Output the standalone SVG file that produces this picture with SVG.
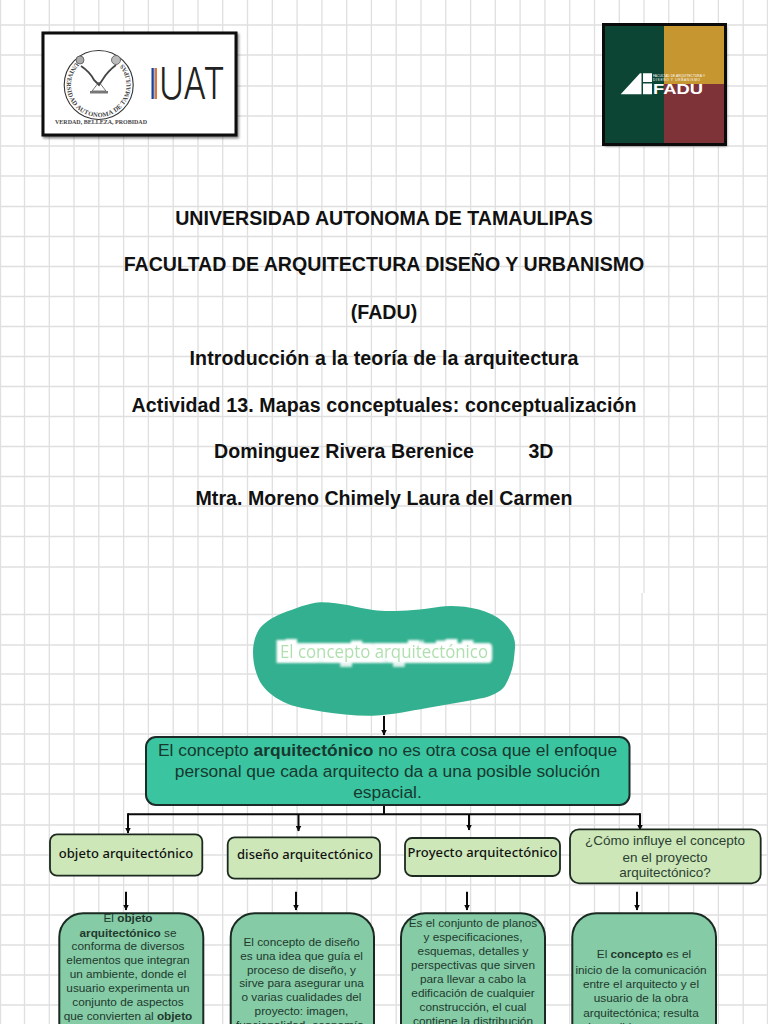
<svg xmlns="http://www.w3.org/2000/svg" xmlns:xlink="http://www.w3.org/1999/xlink" width="768" height="1024" viewBox="0 0 768 1024">
<style>
.g{stroke:#dfdfdf;stroke-width:1.3;fill:none}
.t{font-family:"Liberation Sans",Arial,sans-serif;font-weight:700;font-size:19.6px;fill:#111;text-anchor:middle}
.c{stroke:#0a0a0a;stroke-width:2;fill:none}
.m{font-family:"Liberation Sans",Arial,sans-serif;font-size:17.4px;fill:#17392f;text-anchor:middle}
.h{fill:#cde7b8;stroke:#1c2a20;stroke-width:1.8}
.hn{font-family:"Noto Sans","Open Sans",sans-serif;font-size:13px;font-weight:500;fill:#111;text-anchor:middle}
.q{font-family:"Liberation Sans",Arial,sans-serif;font-size:13.5px;fill:#2b3f33;text-anchor:middle}
.b{fill:#85cba6;stroke:#1a2a22;stroke-width:2}
.s{font-family:"Liberation Sans",Arial,sans-serif;font-size:11.8px;fill:#22392d;text-anchor:middle}
.bd{font-weight:700}
</style>
<defs>
<marker id="a" markerUnits="userSpaceOnUse" markerWidth="6" markerHeight="6" refX="5.5" refY="3" orient="auto"><path d="M0 0L6 3L0 6z" fill="#0a0a0a"/></marker>
<filter id="sh" x="-5%" y="-5%" width="112%" height="115%"><feDropShadow dx="1.5" dy="2" stdDeviation="1.2" flood-color="#000" flood-opacity=".45"/></filter>
<filter id="halo" x="-10%" y="-60%" width="120%" height="220%"><feMorphology in="SourceAlpha" operator="dilate" radius="5" result="d"/><feGaussianBlur in="d" stdDeviation=".8" result="b"/><feFlood flood-color="#fff"/><feComposite in2="b" operator="in" result="w"/><feMerge><feMergeNode in="w"/><feMergeNode in="SourceGraphic"/></feMerge></filter>
<path id="ring" d="M76.100 62.400A32 32 0 1 0 121.300 62.400"/>
</defs>
<rect width="768" height="1024" fill="#fff"/>
<g id="grid">
<path class="g" d="M.5 0V1024M24.5 0V1024M49.3 0V1024M74 0V1024M98.8 0V1024M123.6 0V1024M148.4 0V1024M173.2 0V1024M198 0V1024M222.7 0V1024M247.5 0V1024M272.3 0V1024M297.1 0V1024M321.9 0V1024M346.7 0V1024M371.4 0V1024M396.2 0V1024M421 0V1024M445.8 0V1024M470.6 0V1024M495.3 0V1024M520.1 0V1024M544.9 0V1024M569.7 0V1024M594.5 0V1024M619.3 0V1024M644 0V593M642 593V1024M668.8 0V1024M693.6 0V1024M718.4 0V1024M743.2 0V1024M767.5 0V1024"/>
<path class="g" d="M0 25H768M0 55H768M0 86H768M0 116H768M0 146H768M0 176H768M0 206.5H768M0 236.5H768M0 266.5H768M0 296.5H768M0 326.5H768M0 356.5H768M0 386.5H768M0 416.5H768M0 446.5H768M0 476.5H768M0 506H768M0 536.5H768M0 567H768M0 614.5H768M0 645H768M0 674H768M0 704.5H768M0 734H768M0 764H768M0 794H768M0 825H768M0 855H768M0 885H768M0 915H768M0 945H768M0 975H768M0 1005H768"/>
</g>
<g id="logo-uat">
<rect x="43" y="33" width="193" height="102" fill="#fff" stroke="#0b0b0b" stroke-width="3" filter="url(#sh)"/>
<circle cx="98.700" cy="85" r="34.500" fill="#fff" stroke="#333" stroke-width="1.100"/>
<text font-family="Liberation Serif,serif" font-size="6.500" font-weight="700" fill="#444" textLength="148" lengthAdjust="spacing"><textPath xlink:href="#ring" href="#ring">UNIVERSIDAD AUTONOMA DE TAMAULIPAS</textPath></text>
<path d="M81 66Q90 72 94 80L99 85L103 79Q108 71 116 65" fill="none" stroke="#444" stroke-width="1.800"/>
<circle cx="80" cy="60" r="4" fill="#aaa" stroke="#555" stroke-width=".8"/><circle cx="116" cy="60" r="4.500" fill="#bbb" stroke="#555" stroke-width=".8"/>
<path d="M99 82L92 91H106z" fill="none" stroke="#555" stroke-width=".8"/>
<path d="M90 91H108V93.500H90z" fill="#777"/>
<text x="101" y="124" font-family="Liberation Serif,serif" font-weight="700" font-size="5.600" fill="#444" text-anchor="middle" textLength="92" lengthAdjust="spacingAndGlyphs">VERDAD, BELLEZA, PROBIDAD</text>
<rect x="151.500" y="68" width="1.500" height="31" fill="#27408b"/><rect x="153" y="68" width="1.500" height="31" fill="#3a6cc0"/><rect x="155" y="68" width="2" height="31" fill="#e8742c"/>
<text x="159" y="99" font-family="Inter,Liberation Sans,sans-serif" font-weight="300" font-size="43" fill="#222" textLength="66" lengthAdjust="spacingAndGlyphs">UAT</text>
</g>
<g id="logo-fadu">
<g filter="url(#sh)"><rect x="603.500" y="24.500" width="122" height="120" fill="#0f4536"/></g>
<rect x="664" y="24.500" width="61.500" height="59.500" fill="#c69631"/>
<rect x="664" y="84" width="61.500" height="60.500" fill="#7e3338"/>
<rect x="603.500" y="24.500" width="122" height="120" fill="none" stroke="#0b0b0b" stroke-width="3"/>
<path d="M620.700 94.300L640 73.300H641.500V94.300zM643 73.300H652V82H643zM643 83.500H652V94.300H643z" fill="#fff"/>
<text x="653" y="94" font-family="Liberation Sans,sans-serif" font-weight="700" font-size="15.500" fill="#fff" textLength="50" lengthAdjust="spacingAndGlyphs">FADU</text>
<text x="653" y="76.500" font-family="Liberation Sans,sans-serif" font-size="3.200" fill="#fff" textLength="52" lengthAdjust="spacing">FACULTAD DE ARQUITECTURA ®</text>
<text x="653" y="80.500" font-family="Liberation Sans,sans-serif" font-size="3.200" fill="#fff" textLength="47" lengthAdjust="spacing">DISEÑO Y URBANISMO</text>
</g>
<g id="titles">
<text class="t" x="384" y="225">UNIVERSIDAD AUTONOMA DE TAMAULIPAS</text>
<text class="t" x="384" y="271">FACULTAD DE ARQUITECTURA DISEÑO Y URBANISMO</text>
<text class="t" x="384" y="319">(FADU)</text>
<text class="t" x="384" y="365" textLength="389">Introducción a la teoría de la arquitectura</text>
<text class="t" x="384" y="411.500" textLength="505">Actividad 13. Mapas conceptuales: conceptualización</text>
<text class="t" x="214" y="458" style="text-anchor:start" textLength="260">Dominguez Rivera Berenice</text>
<text class="t" x="541" y="458">3D</text>
<text class="t" x="384" y="505" textLength="377">Mtra. Moreno Chimely Laura del Carmen</text>
</g>
<g id="connectors">
<path class="c" d="M384 716V735" marker-end="url(#a)"/>
<path class="c" d="M384 801V814.300M128 814.300H640"/>
<path class="c" d="M128 813.300V833" marker-end="url(#a)"/>
<path class="c" d="M298.500 814.300V831" marker-end="url(#a)"/>
<path class="c" d="M469 814.300V830" marker-end="url(#a)"/>
<path class="c" d="M640 813.300V830" marker-end="url(#a)"/>
<path class="c" d="M126 891.700V910" marker-end="url(#a)"/>
<path class="c" d="M296 891.700V910" marker-end="url(#a)"/>
<path class="c" d="M467 891.700V910" marker-end="url(#a)"/>
<path class="c" d="M637 891.700V910" marker-end="url(#a)"/>
</g>
<g id="n-concepto">
<path d="M320 602.300C340 602 358 608 373 610C388 612 412 611 440 606.700C458 604.500 488 608 503 621.700C512 630 516 640 515 648C514 660 513 668 510 675C507 683 504 689 498 692C490 697 483 698 473 700C458 703 442 705 427 708C410 711 392 715 373 715.700C355 716 338 714 323 711.700C308 709 293 707 283 701.700C272 696 265 690 260 681.700C255 672 253 662 253 651.700C253 642 256 634 260 628C266 621 275 616 283 613C295 609 308 603 320 602.300Z" fill="#33b08f"/>
<text x="384" y="657.700" font-family="Open Sans,Noto Sans,sans-serif" font-size="18" font-weight="500" fill="#ace0ad" text-anchor="middle" textLength="208" lengthAdjust="spacingAndGlyphs" filter="url(#halo)">El concepto arquitectónico</text>
</g>
<g id="n-definicion">
<rect x="146" y="737" width="483.500" height="68" rx="10" fill="#3ac5a0" stroke="#1c2b28" stroke-width="2"/>
<text class="m" x="387.500" y="756">El concepto <tspan class="bd">arquitectónico</tspan> no es otra cosa que el enfoque</text>
<text class="m" x="387.500" y="777">personal que cada arquitecto da a una posible solución</text>
<text class="m" x="387.500" y="797.700">espacial.</text>
</g>
<g id="n-objeto">
<rect class="h" x="50" y="834.300" width="152.300" height="41.400" rx="7"/>
<text class="hn" x="126" y="858" textLength="134.500">objeto arquitectónico</text>
</g>
<g id="n-diseno">
<rect class="h" x="227.700" y="837.300" width="152.300" height="41.400" rx="7"/>
<text class="hn" x="305" y="859.300" textLength="136">diseño arquitectónico</text>
</g>
<g id="n-proyecto">
<rect class="h" x="405" y="838" width="155" height="38" rx="7"/>
<text class="hn" x="482.500" y="857" textLength="150">Proyecto arquitectónico</text>
</g>
<g id="n-como">
<rect class="h" x="570" y="829.300" width="190.700" height="54" rx="9"/>
<text class="q" x="665" y="845">¿Cómo influye el concepto</text>
<text class="q" x="665" y="861.700">en el proyecto</text>
<text class="q" x="665" y="877.300">arquitectónico?</text>
</g>
<g id="n-objeto-d">
<rect class="b" x="59.300" y="913.300" width="144" height="140" rx="24"/>
<text class="s" x="128" y="922">El <tspan class="bd">objeto</tspan></text>
<text class="s" x="128" y="936.700"><tspan class="bd">arquitectónico</tspan> se</text>
<text class="s" x="128" y="950">conforma de diversos</text>
<text class="s" x="128" y="964">elementos que integran</text>
<text class="s" x="128" y="977.700">un ambiente, donde el</text>
<text class="s" x="128" y="991.700">usuario experimenta un</text>
<text class="s" x="128" y="1006">conjunto de aspectos</text>
<text class="s" x="128" y="1020">que convierten al <tspan class="bd">objeto</tspan></text>
</g>
<g id="n-diseno-d">
<rect class="b" x="230.700" y="913.300" width="143.300" height="140" rx="24"/>
<text class="s" x="301.500" y="945.700">El concepto de diseño</text>
<text class="s" x="301.500" y="960">es una idea que guía el</text>
<text class="s" x="301.500" y="973.700">proceso de diseño, y</text>
<text class="s" x="301.500" y="987.300">sirve para asegurar una</text>
<text class="s" x="301.500" y="1001">o varias cualidades del</text>
<text class="s" x="301.500" y="1015.300">proyecto: imagen,</text>
<text class="s" x="301.500" y="1029">funcionalidad, economía,</text>
</g>
<g id="n-proyecto-d">
<rect class="b" x="401" y="913.300" width="144" height="140" rx="24"/>
<text class="s" x="473" y="926.700">Es el conjunto de planos</text>
<text class="s" x="473" y="940.700">y especificaciones,</text>
<text class="s" x="473" y="954.700">esquemas, detalles y</text>
<text class="s" x="473" y="969">perspectivas que sirven</text>
<text class="s" x="473" y="983">para llevar a cabo la</text>
<text class="s" x="473" y="996.700">edificación de cualquier</text>
<text class="s" x="473" y="1010.700">construcción, el cual</text>
<text class="s" x="473" y="1024.500">contiene la distribución</text>
</g>
<g id="n-como-d">
<rect class="b" x="572.300" y="913.300" width="143.700" height="140" rx="24"/>
<text class="s" x="644" y="957.700">El <tspan class="bd">concepto</tspan> es el</text>
<text class="s" x="641" y="974">inicio de la comunicación</text>
<text class="s" x="641" y="988.300">entre el arquitecto y el</text>
<text class="s" x="641" y="1002.300">usuario de la obra</text>
<text class="s" x="641" y="1016.700">arquitectónica; resulta</text>
<text class="s" x="641" y="1031">imposible no pensar</text>
</g>
</svg>
